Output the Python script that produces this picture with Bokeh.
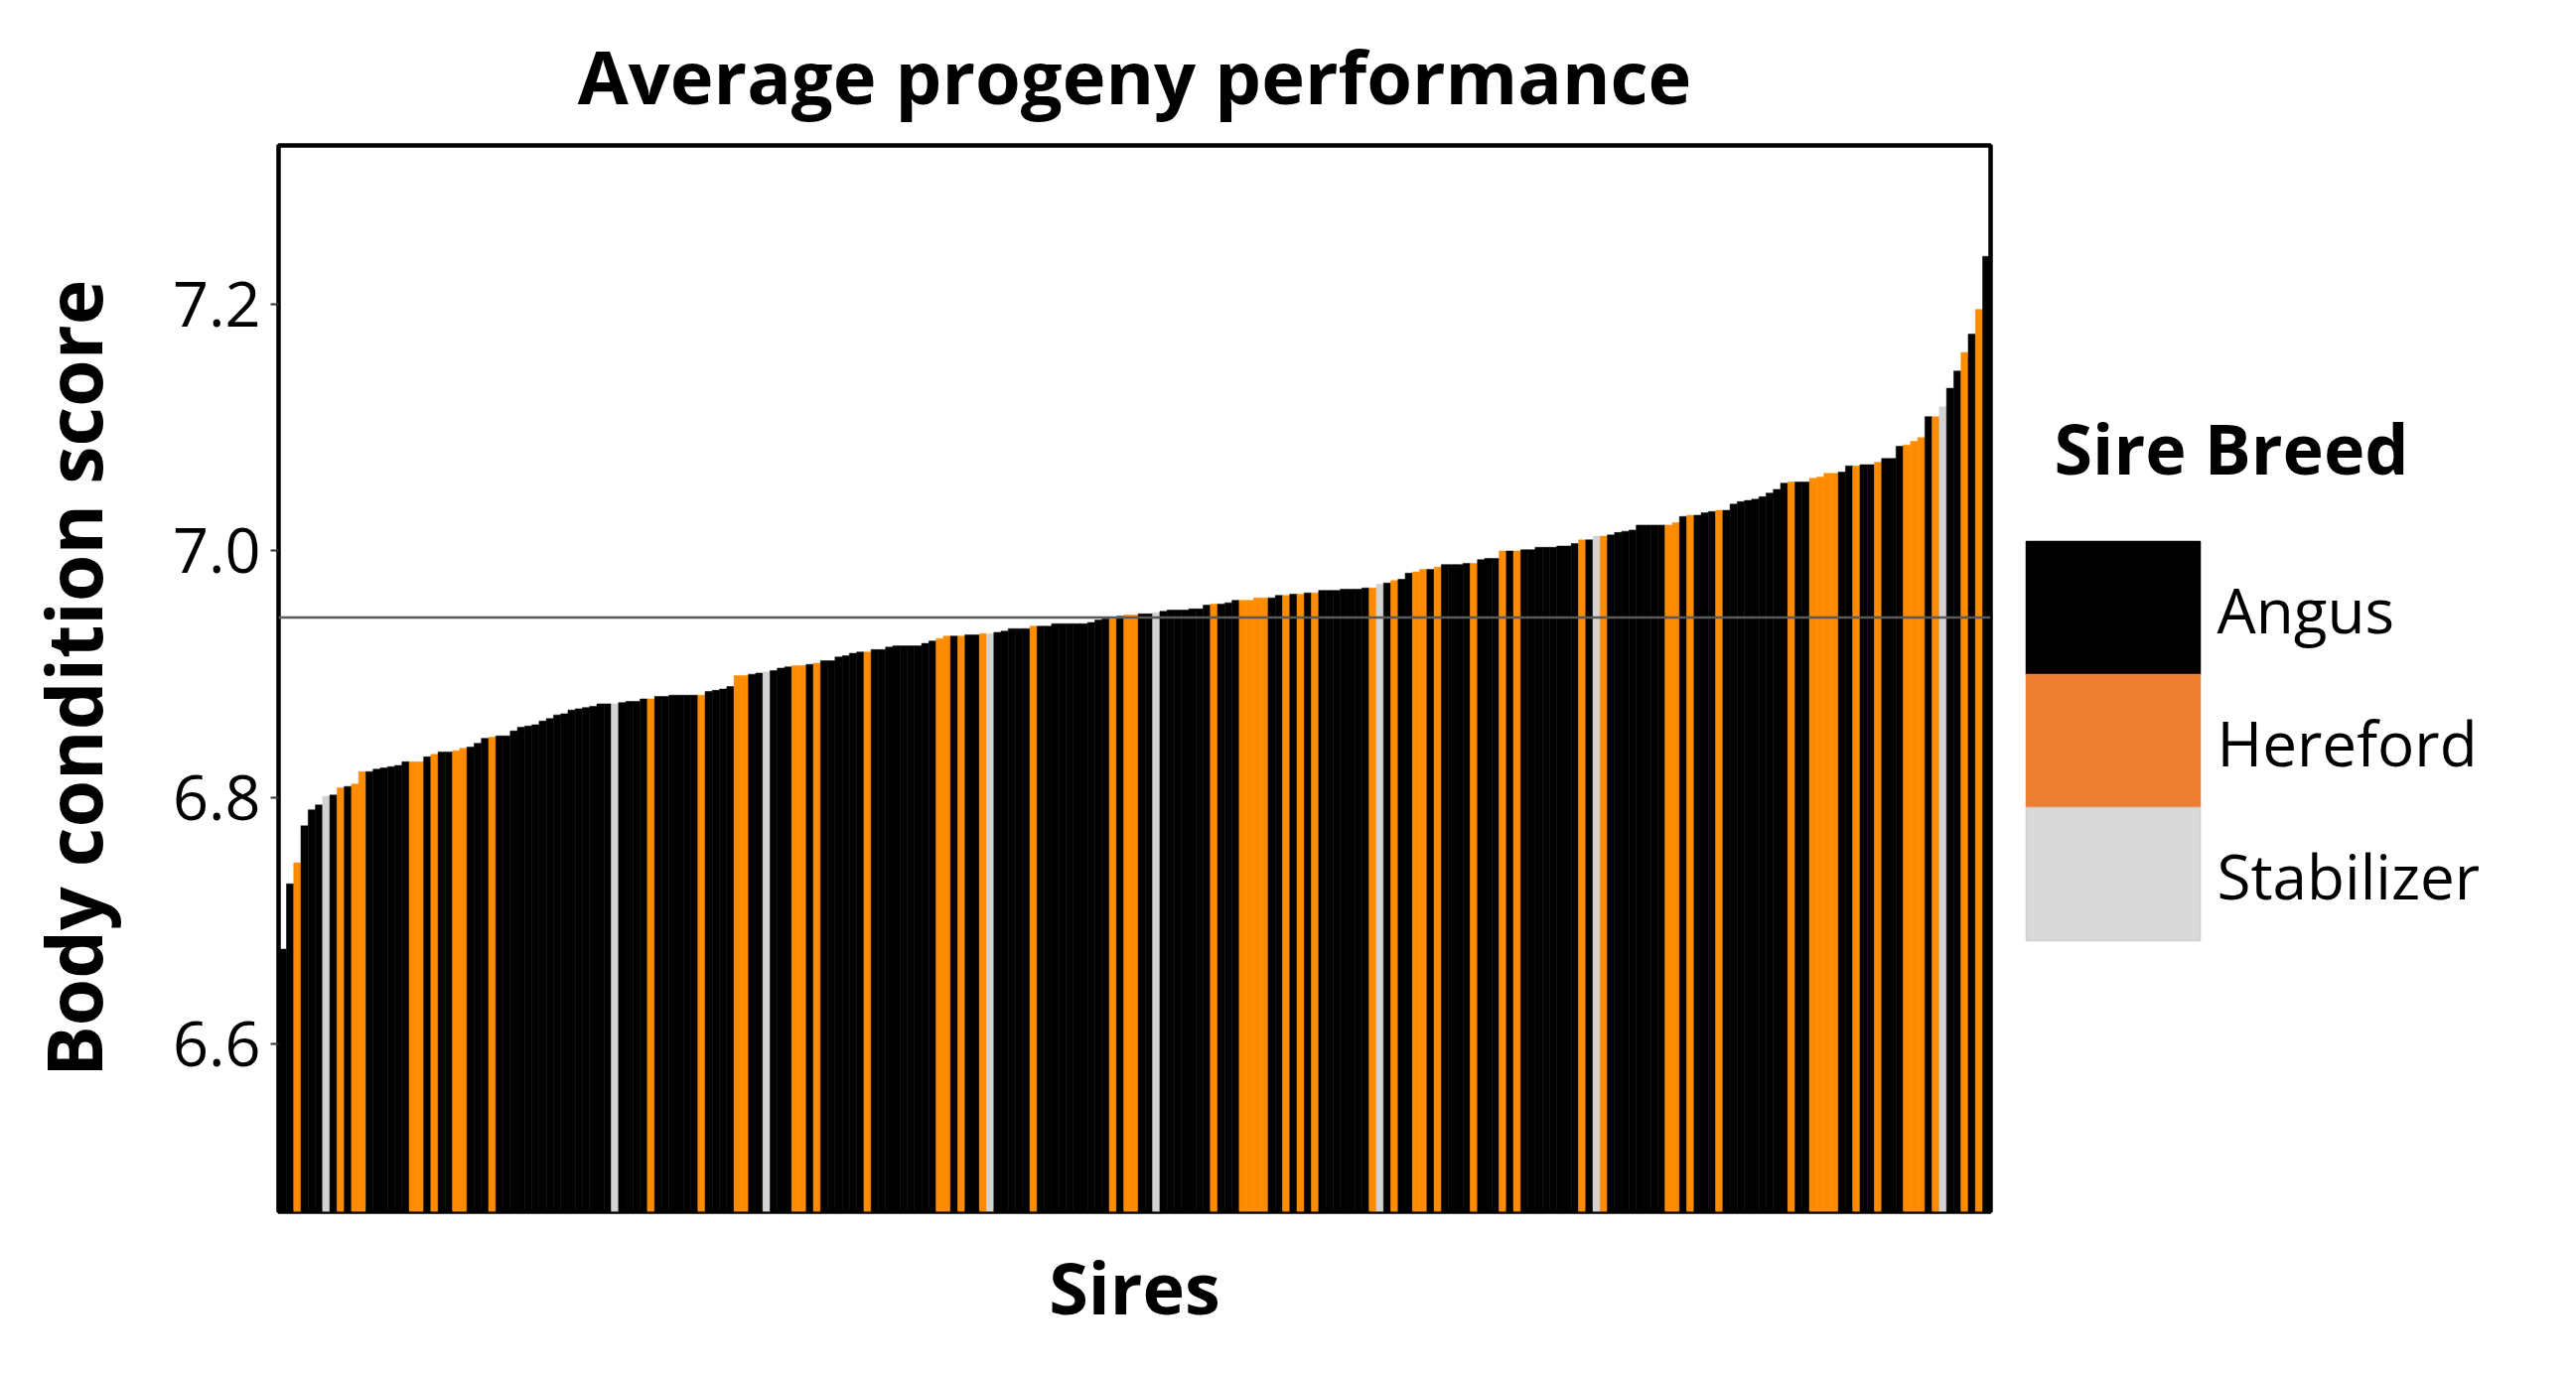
from bokeh.plotting import figure
from bokeh.layouts import row
from bokeh.models import (ColumnDataSource, Range1d, FixedTicker, Span,
                          PrintfTickFormatter)
from bokeh.core.properties import value
from bokeh.embed import file_html
from bokeh.resources import INLINE

# ---------------- data ----------------
breeds = ["Angus", "Hereford", "Stabilizer"]
code_to_breed = {"A": "Angus", "H": "Hereford", "S": "Stabilizer"}

# sire breed of each bar, left to right
breed_codes = [
    "A", "A", "H", "A", "A", "A", "S", "A", "H", "A",
    "H", "H", "A", "A", "A", "A", "A", "A", "H", "H",
    "A", "H", "A", "A", "H", "H", "A", "A", "A", "H",
    "A", "A", "A", "A", "A", "A", "A", "A", "A", "A",
    "A", "A", "A", "A", "A", "A", "S", "A", "A", "A",
    "A", "H", "A", "A", "A", "A", "A", "A", "H", "A",
    "A", "A", "A", "H", "H", "A", "A", "S", "A", "A",
    "A", "H", "H", "A", "H", "A", "A", "A", "A", "A",
    "A", "H", "A", "A", "A", "A", "A", "A", "A", "A",
    "A", "H", "H", "A", "H", "A", "A", "H", "S", "A",
    "A", "A", "A", "A", "H", "A", "A", "A", "A", "A",
    "A", "A", "A", "A", "A", "H", "A", "H", "H", "A",
    "A", "S", "A", "A", "A", "A", "A", "A", "A", "H",
    "A", "A", "A", "H", "H", "H", "H", "A", "A", "H",
    "A", "H", "A", "H", "A", "A", "A", "A", "A", "A",
    "A", "H", "S", "A", "H", "A", "A", "H", "H", "A",
    "H", "A", "A", "A", "A", "H", "A", "A", "A", "H",
    "A", "H", "A", "A", "A", "A", "A", "A", "A", "A",
    "H", "A", "S", "H", "A", "A", "A", "A", "A", "A",
    "A", "A", "H", "H", "A", "H", "A", "A", "A", "H",
    "A", "A", "A", "A", "A", "A", "A", "A", "A", "H",
    "A", "A", "H", "H", "H", "H", "A", "A", "H", "A",
    "A", "H", "A", "A", "A", "H", "H", "H", "A", "H",
    "S", "A", "A", "H", "A", "H", "A",
]

# average progeny body condition score of each sire, left to right
body_condition = [
    6.677, 6.730, 6.747, 6.777, 6.790, 6.794, 6.801, 6.802, 6.808, 6.809,
    6.811, 6.821, 6.821, 6.823, 6.824, 6.825, 6.826, 6.829, 6.829, 6.829,
    6.833, 6.835, 6.837, 6.837, 6.838, 6.840, 6.841, 6.844, 6.848, 6.849,
    6.850, 6.850, 6.854, 6.857, 6.858, 6.859, 6.862, 6.864, 6.867, 6.868,
    6.871, 6.872, 6.873, 6.874, 6.876, 6.876, 6.876, 6.877, 6.878, 6.878,
    6.880, 6.880, 6.882, 6.882, 6.883, 6.883, 6.883, 6.883, 6.883, 6.886,
    6.887, 6.888, 6.890, 6.899, 6.899, 6.900, 6.901, 6.902, 6.903, 6.905,
    6.906, 6.907, 6.907, 6.908, 6.909, 6.911, 6.911, 6.914, 6.915, 6.917,
    6.918, 6.918, 6.920, 6.920, 6.922, 6.923, 6.923, 6.923, 6.923, 6.925,
    6.927, 6.929, 6.931, 6.931, 6.931, 6.932, 6.932, 6.933, 6.933, 6.934,
    6.935, 6.937, 6.937, 6.937, 6.939, 6.939, 6.939, 6.941, 6.941, 6.941,
    6.941, 6.941, 6.942, 6.944, 6.945, 6.945, 6.947, 6.948, 6.948, 6.949,
    6.949, 6.950, 6.951, 6.952, 6.952, 6.952, 6.953, 6.953, 6.956, 6.957,
    6.957, 6.958, 6.960, 6.960, 6.960, 6.962, 6.962, 6.962, 6.964, 6.964,
    6.965, 6.965, 6.966, 6.966, 6.968, 6.968, 6.968, 6.969, 6.969, 6.969,
    6.970, 6.970, 6.973, 6.974, 6.976, 6.977, 6.982, 6.983, 6.985, 6.985,
    6.987, 6.989, 6.989, 6.989, 6.990, 6.990, 6.993, 6.994, 6.994, 7.000,
    7.000, 7.000, 7.001, 7.001, 7.003, 7.003, 7.003, 7.004, 7.004, 7.006,
    7.009, 7.009, 7.012, 7.012, 7.013, 7.015, 7.016, 7.017, 7.021, 7.021,
    7.021, 7.021, 7.021, 7.023, 7.028, 7.029, 7.029, 7.031, 7.032, 7.033,
    7.033, 7.038, 7.040, 7.041, 7.042, 7.044, 7.047, 7.050, 7.055, 7.056,
    7.056, 7.056, 7.059, 7.060, 7.063, 7.063, 7.064, 7.069, 7.069, 7.070,
    7.070, 7.072, 7.075, 7.075, 7.085, 7.086, 7.089, 7.092, 7.109, 7.109,
    7.117, 7.132, 7.146, 7.161, 7.176, 7.196, 7.239,
]

mean_score = 6.946
y_ticks = [6.6, 6.8, 7.0, 7.2]
y_limits = (6.464, 7.329)

bar_colors = {"Angus": "#000000", "Hereford": "#FF8C00", "Stabilizer": "#D3D3D3"}
legend_colors = {"Angus": "#000000", "Hereford": "#ED7D31", "Stabilizer": "#D9D9D9"}
legend_edges = {"Angus": "#000000", "Hereford": "#ED7D31", "Stabilizer": "#CFCFCF"}

# ---------------- main chart ----------------
sire_breed = [code_to_breed[c] for c in breed_codes]
n = len(body_condition)
src = ColumnDataSource(dict(
    x=list(range(n)),
    top=body_condition,
    breed=sire_breed,
    color=[bar_colors[b] for b in sire_breed],
))

H = 1368
MAIN_W, LEG_W = 2024, 554
FL, FR, FT, FB = 280, 2004, 146, 1220   # frame edges in figure pixels

p = figure(width=MAIN_W, height=H, output_backend="svg", toolbar_location=None,
           x_range=Range1d(-0.6, n - 0.4), y_range=Range1d(*y_limits),
           min_border_left=FL, min_border_right=MAIN_W - FR,
           min_border_top=FT, min_border_bottom=H - FB,
           background_fill_color="white", border_fill_color="white")

p.vbar(x="x", top="top", bottom=6.0, width=1.0, source=src,
       fill_color="color", line_color="color", line_width=0.5)

p.add_layout(Span(location=mean_score, dimension="width",
                  line_color="#5a5a5a", line_width=2.5))

p.title.text = "Average progeny performance"
p.title.align = "center"
p.title.text_font = "Open Sans"
p.title.text_font_style = "bold"
p.title.text_font_size = "74px"
p.title.text_color = "black"
p.title.standoff = 40

p.outline_line_color = "black"
p.outline_line_width = 4.5
p.grid.visible = False

p.yaxis.ticker = FixedTicker(ticks=y_ticks)
p.yaxis.formatter = PrintfTickFormatter(format="%.1f")
p.yaxis.axis_line_color = None
p.yaxis.minor_tick_line_color = None
p.yaxis.major_tick_line_color = "#333333"
p.yaxis.major_tick_line_width = 2
p.yaxis.major_tick_out = 8
p.yaxis.major_tick_in = 0
p.yaxis.major_label_standoff = 10
p.yaxis.major_label_text_font = "Open Sans"
p.yaxis.major_label_text_font_size = "63px"
p.yaxis.major_label_text_color = "black"
p.yaxis.axis_label = "Body condition score"
p.yaxis.axis_label_text_font = "Open Sans"
p.yaxis.axis_label_text_font_style = "bold"
p.yaxis.axis_label_text_font_size = "77px"
p.yaxis.axis_label_text_color = "black"
p.yaxis.axis_label_standoff = 45

p.xaxis.axis_line_color = None
p.xaxis.major_tick_line_color = None
p.xaxis.minor_tick_line_color = None
p.xaxis.major_label_text_font_size = "0px"
p.xaxis.major_label_text_color = None
p.xaxis.axis_label = "Sires"
p.xaxis.axis_label_text_font = "Open Sans"
p.xaxis.axis_label_text_font_style = "bold"
p.xaxis.axis_label_text_font_size = "72px"
p.xaxis.axis_label_text_color = "black"
p.xaxis.axis_label_standoff = 20

# ---------------- legend panel (its own figure; data units = figure pixels) ----------------
# Same top/bottom borders as the main chart, so the row keeps both frames aligned
# and a y value equals the figure pixel row.
lg = figure(width=LEG_W, height=H, output_backend="svg", toolbar_location=None,
            x_range=Range1d(0, LEG_W), y_range=Range1d(FB, FT),
            x_axis_type=None, y_axis_type=None,
            min_border_left=0, min_border_right=0,
            min_border_top=FT, min_border_bottom=H - FB,
            outline_line_color=None,
            background_fill_color="white", border_fill_color="white")
lg.grid.visible = False

KEY_X0, KEY_W = 16, 175          # key box left edge and width
KEY_Y0, KEY_H = 545, 134         # first key top and key height
LABEL_X = KEY_X0 + KEY_W + 17
TITLE_Y = 450

k = list(range(len(breeds)))
key_src = ColumnDataSource(dict(
    left=[KEY_X0] * len(breeds),
    right=[KEY_X0 + KEY_W] * len(breeds),
    top=[KEY_Y0 + i * KEY_H for i in k],
    bottom=[KEY_Y0 + (i + 1) * KEY_H for i in k],
    fill=[legend_colors[b] for b in breeds],
    edge=[legend_edges[b] for b in breeds],
    lx=[LABEL_X] * len(breeds),
    ly=[KEY_Y0 + (i + 0.5) * KEY_H + 1 for i in k],
    label=breeds,
))
lg.quad(left="left", right="right", top="top", bottom="bottom", source=key_src,
        fill_color="fill", line_color="edge", line_width=1.5)
lg.text(x="lx", y="ly", text="label", source=key_src,
        text_font=value("Open Sans"), text_font_size="62px",
        text_color="black", text_baseline="alphabetic", text_align="left")
lg.text(x=[KEY_X0 + 28], y=[TITLE_Y], text=["Sire Breed"],
        text_font=value("Open Sans"), text_font_style="bold",
        text_font_size="70px", text_color="black",
        text_baseline="alphabetic", text_align="left")

layout = row(p, lg, spacing=0)
open("out.html", "w").write(file_html(layout, INLINE))
